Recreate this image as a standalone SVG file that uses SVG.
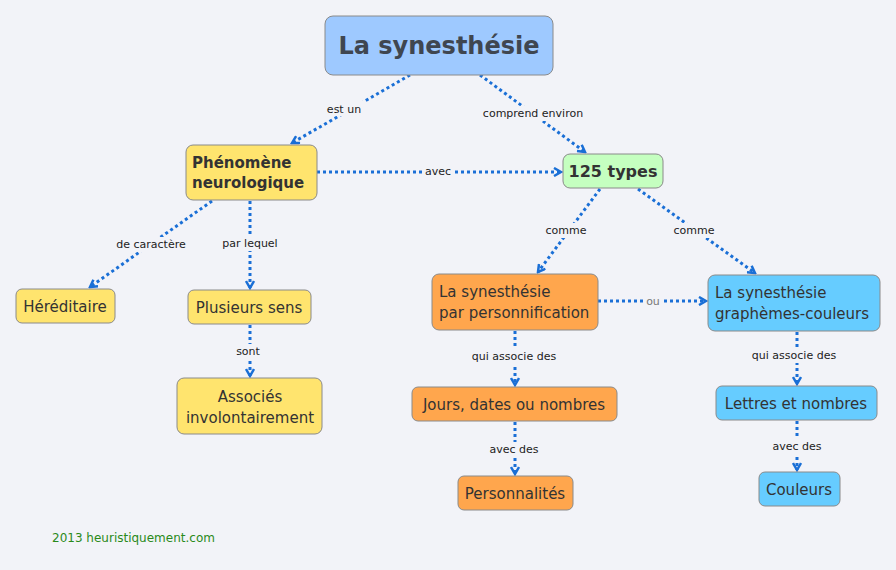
<svg xmlns="http://www.w3.org/2000/svg" width="896" height="570" viewBox="0 0 896 570">
<style>
.n{stroke:#8a8a8a;stroke-width:1}
.t{font-family:"DejaVu Sans",sans-serif;fill:#333;text-anchor:middle}
.c{fill:none;stroke:#1a6fd6;stroke-width:3;stroke-dasharray:3 3;marker-end:url(#a)}
.l{font-family:"DejaVu Sans",sans-serif;font-size:11px;fill:#222;text-anchor:middle}
.lb{fill:#f2f3f8}
</style>
<defs>
<marker id="a" markerWidth="10" markerHeight="10" refX="8" refY="5" orient="auto" markerUnits="userSpaceOnUse">
<path d="M1,1 L8,5 L1,9" fill="none" stroke="#1a6fd6" stroke-width="2.5"/>
</marker>
</defs>
<rect width="896" height="570" fill="#f2f3f8"/>
<g id="connectors">
<path class="c" d="M410,75 L292,143"/>
<path class="c" d="M480,75 L585,152"/>
<path class="c" d="M317,172 L561,172"/>
<path class="c" d="M212,201 L90,287"/>
<path class="c" d="M250,201 L250,288"/>
<path class="c" d="M250,325 L250,376"/>
<path class="c" d="M600,189 L538,272"/>
<path class="c" d="M638,189 L755,273"/>
<path class="c" d="M598,301 L706,301"/>
<path class="c" d="M515,331 L515,385"/>
<path class="c" d="M515,422 L515,474"/>
<path class="c" d="M797,332 L797,384"/>
<path class="c" d="M797,421 L797,470"/>
<rect class="lb" x="324" y="101" width="40" height="15"/><text class="l" x="344" y="113">est un</text>
<rect class="lb" x="482" y="106" width="102" height="15"/><text class="l" x="533" y="117">comprend environ</text>
<rect class="lb" x="424" y="164" width="28" height="15"/><text class="l" x="438" y="175">avec</text>
<rect class="lb" x="115" y="237" width="72" height="15"/><text class="l" x="151" y="248">de caractère</text>
<rect class="lb" x="220" y="236" width="60" height="15"/><text class="l" x="250" y="247">par lequel</text>
<rect class="lb" x="234" y="344" width="28" height="15"/><text class="l" x="248" y="355">sont</text>
<rect class="lb" x="545" y="223" width="42" height="15"/><text class="l" x="566" y="234">comme</text>
<rect class="lb" x="673" y="223" width="42" height="15"/><text class="l" x="694" y="234">comme</text>
<rect class="lb" x="644" y="294" width="18" height="15"/><text class="l" x="653" y="305" style="fill:#777">ou</text>
<rect class="lb" x="470" y="349" width="88" height="15"/><text class="l" x="514" y="360">qui associe des</text>
<rect class="lb" x="488" y="442" width="52" height="15"/><text class="l" x="514" y="453">avec des</text>
<rect class="lb" x="750" y="348" width="88" height="15"/><text class="l" x="794" y="359">qui associe des</text>
<rect class="lb" x="771" y="439" width="52" height="15"/><text class="l" x="797" y="450">avec des</text>
</g>
<g id="title"><rect class="n" x="325" y="16" width="228" height="59" rx="8" fill="#9ec9ff"/><text class="t" x="439" y="54" font-size="24" font-weight="bold" style="fill:#3f4650">La synesthésie</text></g>
<g id="phenomene"><rect class="n" x="186" y="145" width="131" height="55" rx="7" fill="#ffe46e"/><text class="t" font-size="15" font-weight="bold" style="text-anchor:start"><tspan x="192" y="168">Phénomène</tspan><tspan x="192" y="188">neurologique</tspan></text></g>
<g id="types"><rect class="n" x="563" y="154" width="100" height="34" rx="7" fill="#c5ffc0"/><text class="t" x="613" y="177" font-size="16" font-weight="bold">125 types</text></g>
<g id="hereditaire"><rect class="n" x="16" y="289" width="99" height="34" rx="6" fill="#ffe46e"/><text class="t" x="65" y="312" font-size="15">Héréditaire</text></g>
<g id="plusieurs"><rect class="n" x="188" y="290" width="123" height="34" rx="6" fill="#ffe46e"/><text class="t" x="249" y="313" font-size="15">Plusieurs sens</text></g>
<g id="associes"><rect class="n" x="177" y="378" width="145" height="56" rx="7" fill="#ffe46e"/><text class="t" font-size="15"><tspan x="250" y="402">Associés</tspan><tspan x="250" y="423">involontairement</tspan></text></g>
<g id="personnification"><rect class="n" x="432" y="274" width="166" height="56" rx="7" fill="#ffa64d"/><text class="t" font-size="15" style="text-anchor:start"><tspan x="439" y="297">La synesthésie</tspan><tspan x="439" y="318">par personnification</tspan></text></g>
<g id="graphemes"><rect class="n" x="708" y="275" width="172" height="56" rx="7" fill="#66ccff"/><text class="t" font-size="15" style="text-anchor:start"><tspan x="715" y="298">La synesthésie</tspan><tspan x="715" y="319">graphèmes-couleurs</tspan></text></g>
<g id="jours"><rect class="n" x="412" y="387" width="205" height="34" rx="6" fill="#ffa64d"/><text class="t" x="514" y="410" font-size="15">Jours, dates ou nombres</text></g>
<g id="lettres"><rect class="n" x="716" y="386" width="161" height="34" rx="6" fill="#66ccff"/><text class="t" x="796" y="409" font-size="15">Lettres et nombres</text></g>
<g id="personnalites"><rect class="n" x="458" y="476" width="115" height="34" rx="6" fill="#ffa64d"/><text class="t" x="515" y="499" font-size="15">Personnalités</text></g>
<g id="couleurs"><rect class="n" x="759" y="472" width="81" height="34" rx="6" fill="#66ccff"/><text class="t" x="799" y="495" font-size="15">Couleurs</text></g>
<text x="52" y="542" font-family="DejaVu Sans, sans-serif" font-size="12" fill="#2a8a1a">2013 heuristiquement.com</text>
</svg>
